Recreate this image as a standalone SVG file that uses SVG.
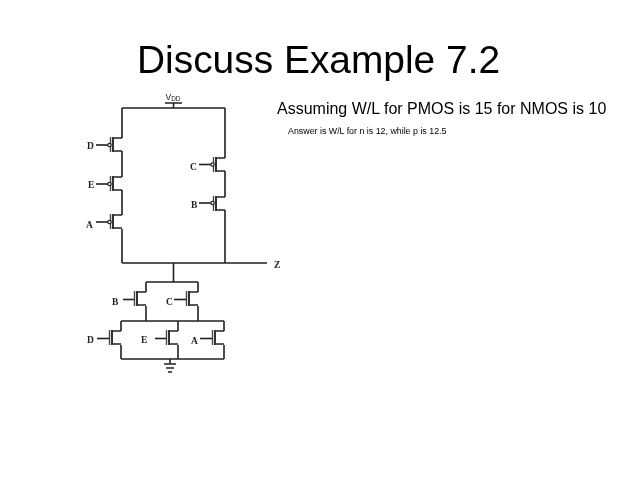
<svg xmlns="http://www.w3.org/2000/svg" width="638" height="478" viewBox="0 0 638 478">
<defs>
<filter id="scan" x="-5%" y="-5%" width="110%" height="110%"><feGaussianBlur stdDeviation="0.4"/></filter>
<filter id="soft" x="-5%" y="-5%" width="110%" height="110%"><feGaussianBlur stdDeviation="0.25"/></filter>
<g id="fet"><path class="w" d="M9 0H0V13H9"/><path class="c" d="M0 -1V14"/><path class="c2" d="M-2.500 -1V14"/></g>
</defs>
<style>
text{font-family:"Liberation Sans",Arial,sans-serif;fill:#000}
.s{font-family:"Liberation Serif","Times New Roman",serif;font-weight:bold;font-size:9.5px;fill:#222}
.v{font-size:8.5px;fill:#222}
.w,.l{fill:none;stroke:#222;stroke-width:1.6}
.c{fill:none;stroke:#333;stroke-width:2}
.c2{fill:none;stroke:#444;stroke-width:1.4}
.b{fill:#fff;stroke:#222;stroke-width:1.2}
</style>
<rect width="638" height="478" fill="#fff"/>
<g filter="url(#soft)">
<text x="137" y="73" font-size="38.9">Discuss Example 7.2</text>
<text x="277" y="114" font-size="16">Assuming W/L for PMOS is 15 for NMOS is 10</text>
<text x="288" y="134" font-size="8.85">Answer is W/L for n is 12, while p is 12.5</text>
</g>
<g filter="url(#scan)">
<g id="connectors">
<path class="l" d="M173.500 103V108M165 103H182M122 108H225M122 108V138M122 151V177M122 190V215M122 229V263M225 108V158M225 171V197M225 210V263M122 263H267M173.500 263V282M146 282H198M146 282V292M146 306V321M198 282V292M198 306V321M121 321H224M121 321V331M121 345V359M178 321V331M178 345V359M224 321V331M224 345V359M121 359H224"/>
<path class="l" d="M170 359V364M164 364H176M166 368H174M168 372H172"/>
</g>
<g id="pmos-D"><use href="#fet" transform="translate(113,138)"/><path class="l" d="M96 145H108"/><circle class="b" cx="109.500" cy="145" r="1.700"/><text class="s" x="87" y="149">D</text></g>
<g id="pmos-E"><use href="#fet" transform="translate(113,177)"/><path class="l" d="M96 184H108"/><circle class="b" cx="109.500" cy="184" r="1.700"/><text class="s" x="88" y="188">E</text></g>
<g id="pmos-A"><use href="#fet" transform="translate(113,215)"/><path class="l" d="M96 222H108"/><circle class="b" cx="109.500" cy="222" r="1.700"/><text class="s" x="86" y="228">A</text></g>
<g id="pmos-C"><use href="#fet" transform="translate(216,158)"/><path class="l" d="M199 164.500H211"/><circle class="b" cx="212.500" cy="164.500" r="1.700"/><text class="s" x="190" y="170">C</text></g>
<g id="pmos-B"><use href="#fet" transform="translate(216,197)"/><path class="l" d="M199 203H211"/><circle class="b" cx="212.500" cy="203" r="1.700"/><text class="s" x="191" y="208">B</text></g>
<g id="nmos-B"><use href="#fet" transform="translate(137,292)"/><path class="l" d="M123 299.500H134"/><text class="s" x="112" y="305">B</text></g>
<g id="nmos-C"><use href="#fet" transform="translate(189,292)"/><path class="l" d="M174 299.500H186"/><text class="s" x="166" y="305">C</text></g>
<g id="nmos-D"><use href="#fet" transform="translate(112,331)"/><path class="l" d="M97 338.500H109"/><text class="s" x="87" y="343">D</text></g>
<g id="nmos-E"><use href="#fet" transform="translate(169,331)"/><path class="l" d="M155 338.500H166"/><text class="s" x="141" y="343">E</text></g>
<g id="nmos-A"><use href="#fet" transform="translate(215,331)"/><path class="l" d="M200 338.500H212"/><text class="s" x="191" y="344">A</text></g>
<g id="vdd"><text class="v" x="165.500" y="100">V<tspan font-size="6.500" dy="1">DD</tspan></text></g>
<g id="z"><text class="s" x="274" y="268">Z</text></g>
</g>
</svg>
